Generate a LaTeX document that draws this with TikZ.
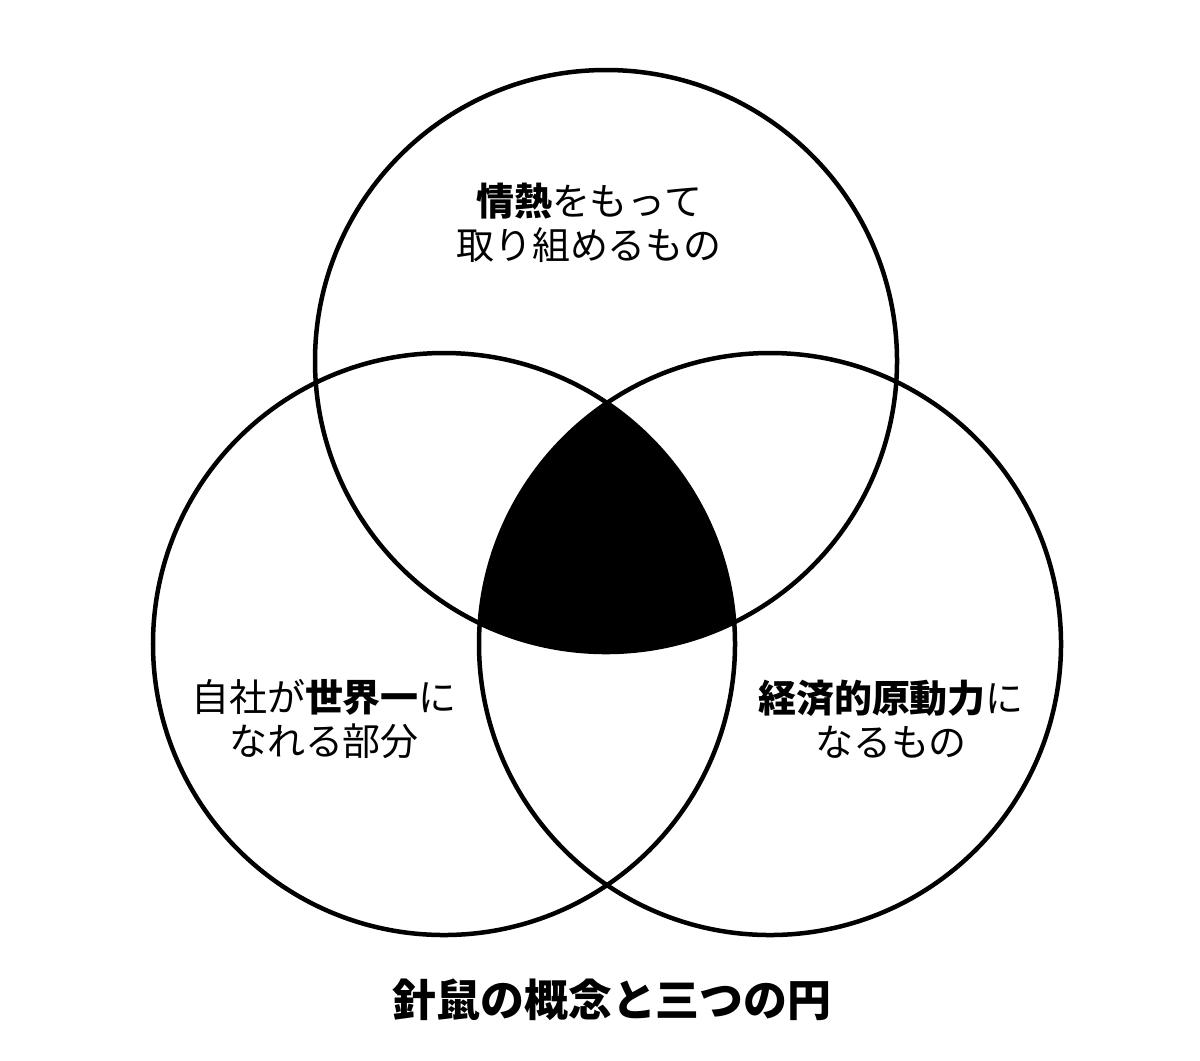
\documentclass[tikz,border=0pt]{standalone}
\usepackage{fontspec}
\newfontfamily\jp{Noto Sans CJK JP}
\usepackage{tikz}
\usetikzlibrary{positioning}

\begin{document}
\begin{tikzpicture}[x=0.2mm, y=-0.2mm,
    ring/.style={draw=black, line width=0.9mm},
    circtext/.style={align=center, inner sep=0pt, font=\jp\fontsize{21.6pt}{25pt}\selectfont},
    titletext/.style={inner sep=0pt, font=\jp\bfseries\fontsize{25pt}{30pt}\selectfont}]
    \useasboundingbox[fill=white] (0,0) rectangle (1200,1060);

    \coordinate (T) at (606,361);
    \coordinate (L) at (444,644);
    \coordinate (R) at (770,644);

    % common part of the three circles
    \begin{scope}
        \clip (T) circle (58.2mm);
        \clip (L) circle (58.2mm);
        \fill[black] (R) circle (58.2mm);
    \end{scope}

    \draw[ring] (T) circle (58.2mm);
    \draw[ring] (L) circle (58.2mm);
    \draw[ring] (R) circle (58.2mm);

    \node[circtext] (passion) at (589,223) {{\bfseries 情熱}をもって\\取り組めるもの};
    \node[circtext] (best) at (324,719) {自社が{\bfseries 世界一}に\\なれる部分};
    \node[circtext] (engine) at (891,719) {{\bfseries 経済的原動力}に\\なるもの};

    \node[titletext] (title) at (612,1000) {針鼠の概念と三つの円};
\end{tikzpicture}
\end{document}
